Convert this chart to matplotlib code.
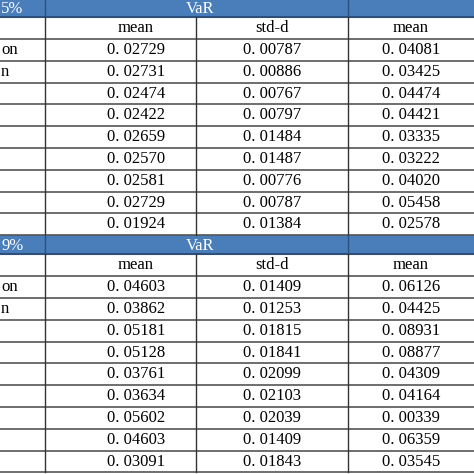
import matplotlib
matplotlib.use("Agg")
import matplotlib.pyplot as plt

row_labels = ["on", "n", "", "", "", "", "", "", ""]
sub_headers = ["mean", "std-d", "mean"]
block1_title = "5%"
block2_title = "9%"
group_title = "VaR"
b1_mean = ["0. 02729", "0. 02731", "0. 02474", "0. 02422", "0. 02659", "0. 02570", "0. 02581", "0. 02729", "0. 01924"]
b1_std = ["0. 00787", "0. 00886", "0. 00767", "0. 00797", "0. 01484", "0. 01487", "0. 00776", "0. 00787", "0. 01384"]
b1_mean2 = ["0. 04081", "0. 03425", "0. 04474", "0. 04421", "0. 03335", "0. 03222", "0. 04020", "0. 05458", "0. 02578"]
b2_mean = ["0. 04603", "0. 03862", "0. 05181", "0. 05128", "0. 03761", "0. 03634", "0. 05602", "0. 04603", "0. 03091"]
b2_std = ["0. 01409", "0. 01253", "0. 01815", "0. 01841", "0. 02099", "0. 02103", "0. 02039", "0. 01409", "0. 01843"]
b2_mean2 = ["0. 06126", "0. 04425", "0. 08931", "0. 08877", "0. 04309", "0. 04164", "0. 00339", "0. 06359", "0. 03545"]

W = 474
fig = plt.figure(figsize=(4.74, 4.74), dpi=100)
ax = fig.add_axes([0, 0, 1, 1])
ax.set_xlim(0, W); ax.set_ylim(W, 0); ax.axis("off")

blue = "#4a7ebb"
fam = ["Liberation Serif", "DejaVu Serif"]
vx = [45, 196, 348]
centers = [136, 272, 411]
fs = 12

def block(y0, title, cols):
    hh, sh, rh = 19, 22, 21.8
    ax.add_patch(plt.Rectangle((0, y0), W, hh, color=blue, lw=0))
    ax.text(1, y0 + hh / 2 + 1, title, color="white", ha="left", va="center", fontsize=fs, family=fam)
    ax.text(centers[0] + 64, y0 + hh / 2 + 1, group_title, color="white", ha="center", va="center", fontsize=fs, family=fam)
    ax.plot([vx[0], vx[0]], [y0, y0 + hh], color="#2d4f7c", lw=1)
    ax.plot([vx[2], vx[2]], [y0, y0 + hh], color="#2d4f7c", lw=1)
    ys = y0 + hh
    ax.plot([0, W], [ys, ys], color="#2d4f7c", lw=1.5)
    for c, t in zip(centers, sub_headers):
        ax.text(c, ys + sh / 2, t, ha="center", va="center", fontsize=fs, family=fam)
    y = ys + sh
    ax.plot([0, W], [y, y], color="#555555", lw=1.2)
    for i in range(len(cols[0])):
        yc = y + rh / 2
        ax.text(1, yc, row_labels[i], ha="left", va="center", fontsize=fs, family=fam)
        for c, col in zip(centers, cols):
            ax.text(c, yc, col[i], ha="center", va="center", fontsize=fs, family=fam)
        y += rh
        ax.plot([0, W], [y, y], color="#555555", lw=1.2)
    for x in vx:
        ax.plot([x, x], [ys, y], color="#333333", lw=1)
    return y

yend = block(-2, block1_title, [b1_mean, b1_std, b1_mean2])
block(yend, block2_title, [b2_mean, b2_std, b2_mean2])
fig.savefig("out.png", dpi=100)
